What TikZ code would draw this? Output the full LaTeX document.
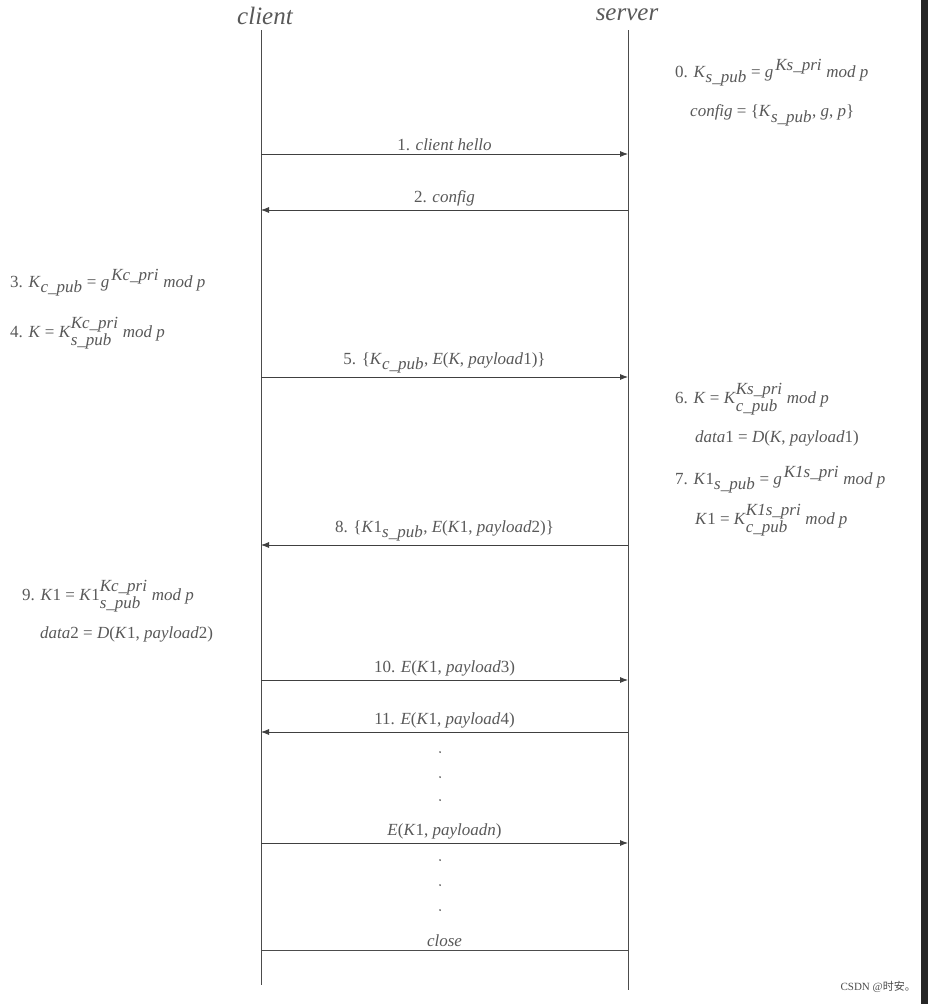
\documentclass[tikz,border=0pt]{standalone}
\usepackage{fontspec}
\setmainfont{Liberation Serif}
\usetikzlibrary{arrows.meta}
\newfontfamily\cjk{Noto Sans CJK SC}
\newcommand{\ti}[1]{\textit{#1}}
\begin{document}
\begin{tikzpicture}[x=1pt,y=-1pt,
  every node/.style={text=black!65,font=\fontsize{17}{20}\selectfont},
  life/.style={draw=black!70,line width=0.8pt},
  msg/.style={draw=black!75,line width=0.8pt,-{Latex[length=8pt,width=6pt]}},
  lbl/.style={anchor=south,inner sep=3pt},
  note/.style={anchor=west,inner sep=0pt},
  dot/.style={fill=black!70,circle,inner sep=0.7pt}]
\useasboundingbox (0,0) rectangle (928,1004);
\fill[white] (0,0) rectangle (928,1004);
\fill[black!85] (921,0) rectangle (928,1004);
\node (cl) at (265,16) {\fontsize{25}{27}\selectfont\itshape client};
\node (sv) at (627,15) {\fontsize{25}{27}\selectfont\itshape server};
\coordinate (ct) at (261,30); \coordinate (cb) at (261,985);
\coordinate (st) at (628,30); \coordinate (sb) at (628,990);
\draw[life] (ct) -- (cb); \draw[life] (st) -- (sb);
\foreach \n/\y in {a/154,b/210,c/377,d/545,e/680,f/732,g/843,h/950}{
  \coordinate (c\n) at (261,\y); \coordinate (s\n) at (628,\y);}
\draw[msg] (ca) -- node[lbl] {1. \ti{client hello}} (sa);
\draw[msg] (sb) -- node[lbl] {2. \ti{config}} (cb);
\draw[msg] (cc) -- node[lbl] {5. \{\ti{K}$_{\ti{c\_pub}}$, \ti{E}(\ti{K}, \ti{payload}1)\}} (sc);
\draw[msg] (sd) -- node[lbl] {8. \{\ti{K}1$_{\ti{s\_pub}}$, \ti{E}(\ti{K}1, \ti{payload}2)\}} (cd);
\draw[msg] (ce) -- node[lbl] {10. \ti{E}(\ti{K}1, \ti{payload}3)} (se);
\draw[msg] (sf) -- node[lbl] {11. \ti{E}(\ti{K}1, \ti{payload}4)} (cf);
\draw[msg] (cg) -- node[lbl] {\ti{E}(\ti{K}1, \ti{payloadn})} (sg);
\draw[life] (ch) -- node[lbl] {\ti{close}} (sh);
\foreach \y [count=\i] in {752,777,800,860,885,910} \node[dot] (d\i) at (440,\y) {};
\node[note] (n0) at (675,73) {0. \ti{K}$_{\ti{s\_pub}}$ = \ti{g}$^{\,\ti{Ks\_pri}}$ \ti{mod p}};
\node[note] (n0b) at (690,115) {\ti{config} = \{\ti{K}$_{\ti{s\_pub}}$, \ti{g}, \ti{p}\}};
\node[note] (n3) at (10,283) {3. \ti{K}$_{\ti{c\_pub}}$ = \ti{g}$^{\,\ti{Kc\_pri}}$ \ti{mod p}};
\node[note] (n4) at (10,333) {4. \ti{K} = \ti{K}$^{\ti{Kc\_pri}}_{\ti{s\_pub}}$ \ti{mod p}};
\node[note] (n6) at (675,399) {6. \ti{K} = \ti{K}$^{\ti{Ks\_pri}}_{\ti{c\_pub}}$ \ti{mod p}};
\node[note] (n6b) at (695,438) {\ti{data}1 = \ti{D}(\ti{K}, \ti{payload}1)};
\node[note] (n7) at (675,480) {7. \ti{K}1$_{\ti{s\_pub}}$ = \ti{g}$^{\,\ti{K1s\_pri}}$ \ti{mod p}};
\node[note] (n7b) at (695,520) {\ti{K}1 = \ti{K}$^{\ti{K1s\_pri}}_{\ti{c\_pub}}$ \ti{mod p}};
\node[note] (n9) at (22,596) {9. \ti{K}1 = \ti{K}1$^{\ti{Kc\_pri}}_{\ti{s\_pub}}$ \ti{mod p}};
\node[note] (n9b) at (40,634) {\ti{data}2 = \ti{D}(\ti{K}1, \ti{payload}2)};
\node[anchor=east,inner sep=0pt,text=black!70,font=\fontsize{11}{13}\selectfont] (wm) at (916,987) {CSDN @\cjk 时安。};
\end{tikzpicture}
\end{document}
